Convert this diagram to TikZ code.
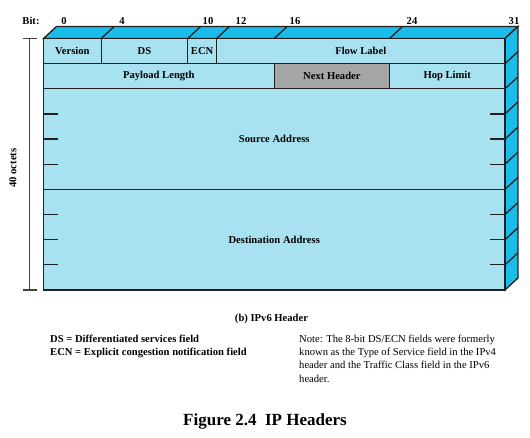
\documentclass[tikz,border=0pt]{standalone}
\usepackage{fontspec}
\setmainfont{Liberation Serif}
\usetikzlibrary{positioning}
\definecolor{facefront}{HTML}{A8E1F0}
\definecolor{faceside}{HTML}{1ABDE9}
\definecolor{fieldgray}{HTML}{A6A6A6}
\definecolor{inkline}{HTML}{231F20}

\begin{document}
\begin{tikzpicture}[x=1pt,y=-1pt]
\tikzset{
  field/.style={draw=inkline,line width=1.3pt,fill=facefront,anchor=north west,inner sep=0pt,outer sep=0pt,minimum height=25.15pt,font=\fontsize{10.6}{12}\selectfont\bfseries},
  sideface/.style={draw=inkline,line width=1.3pt,fill=faceside,line join=miter},
  tickline/.style={draw=inkline,line width=1.3pt},
  bracket/.style={draw=inkline!85,line width=1.1pt},
  bitnum/.style={inner sep=0pt,font=\fontsize{10.6}{12}\selectfont\bfseries},
  caption/.style={inner sep=0pt,font=\fontsize{10.6}{13.3}\selectfont}
}
\def\xl{43.5}\def\yt{38.5}\def\bw{14.42}\def\rh{25.15}\def\dx{13}\def\dy{12}
\useasboundingbox (0,0) rectangle (530,438);
% back faces
\draw[sideface] (\xl,\yt) -- ++(\dx,-\dy) -- ++(32*\bw,0) -- ++(-\dx,\dy) -- cycle;
\draw[sideface] (\xl+32*\bw,\yt) -- ++(\dx,-\dy) -- ++(0,10*\rh) -- ++(-\dx,\dy) -- cycle;
\foreach \b in {4,10,12,16,24}
  \draw[tickline] (\xl+\b*\bw,\yt) -- ++(\dx,-\dy);
\foreach \r in {1,...,9}
  \draw[tickline] (\xl+32*\bw,\yt+\r*\rh) -- ++(\dx,-\dy);
% header fields
\node[field,minimum width=4*\bw pt] (n_version) at (\xl,\yt) {Version};
\node[field,minimum width=6*\bw pt] (n_ds) at (\xl+4*\bw,\yt) {DS};
\node[field,minimum width=2*\bw pt] (n_ecn) at (\xl+10*\bw,\yt) {ECN};
\node[field,minimum width=20*\bw pt] (n_flow) at (\xl+12*\bw,\yt) {Flow Label};
\node[field,minimum width=16*\bw pt] (n_payload) at (\xl,\yt+\rh) {Payload Length};
\node[field,minimum width=8*\bw pt,fill=fieldgray] (n_next) at (\xl+16*\bw,\yt+\rh) {Next Header};
\node[field,minimum width=8*\bw pt] (n_hop) at (\xl+24*\bw,\yt+\rh) {Hop Limit};
\node[field,minimum width=32*\bw pt,minimum height=4*\rh pt] (n_src) at (\xl,\yt+2*\rh) {Source Address};
\node[field,minimum width=32*\bw pt,minimum height=4*\rh pt] (n_dst) at (\xl,\yt+6*\rh) {Destination Address};
\foreach \r in {3,4,5,7,8,9} {
  \draw[tickline] (\xl,\yt+\r*\rh) -- ++(14.5,0);
  \draw[tickline] (\xl+32*\bw,\yt+\r*\rh) -- ++(-14.5,0);
}
% bit numbers
\node[bitnum] (n_bit) at (31,21) {Bit:};
\foreach \b/\x in {0/64,4/122,10/208,12/241,16/295,24/412,31/514}
  \node[bitnum] (n_bit\b) at (\x,21) {\b};
% 40 octets bracket
\coordinate (b_top) at (29.5,\yt);
\coordinate (b_bot) at (29.5,\yt+10*\rh);
\draw[bracket] (b_top) -- (b_bot);
\draw[bracket] ([xshift=-7pt]b_top) -- ([xshift=7pt]b_top);
\draw[bracket] ([xshift=-7pt]b_bot) -- ([xshift=7pt]b_bot);
\node[bitnum,rotate=90] (n_octets) at (13,168) {40 octets};
% captions
\node[caption,font=\fontsize{10.6}{13.3}\selectfont\bfseries] (n_sub) at (271.5,319) {(b) IPv6 Header};
\node[caption,font=\fontsize{10.6}{13.3}\selectfont\bfseries,anchor=north west,align=left] (n_legend) at (50,334.5)
  {DS = Differentiated services field\\ECN = Explicit congestion notification field};
\node[caption,anchor=north west,align=left] (n_note) at (299,334.5)
  {Note: The 8-bit DS/ECN fields were formerly\\known as the Type of Service field in the IPv4\\header and the Traffic Class field in the IPv6\\header.};
\node[caption,font=\fontsize{17}{20}\selectfont\bfseries] (n_fig) at (265,421.5) {Figure 2.4\ \ IP Headers};
\end{tikzpicture}
\end{document}
